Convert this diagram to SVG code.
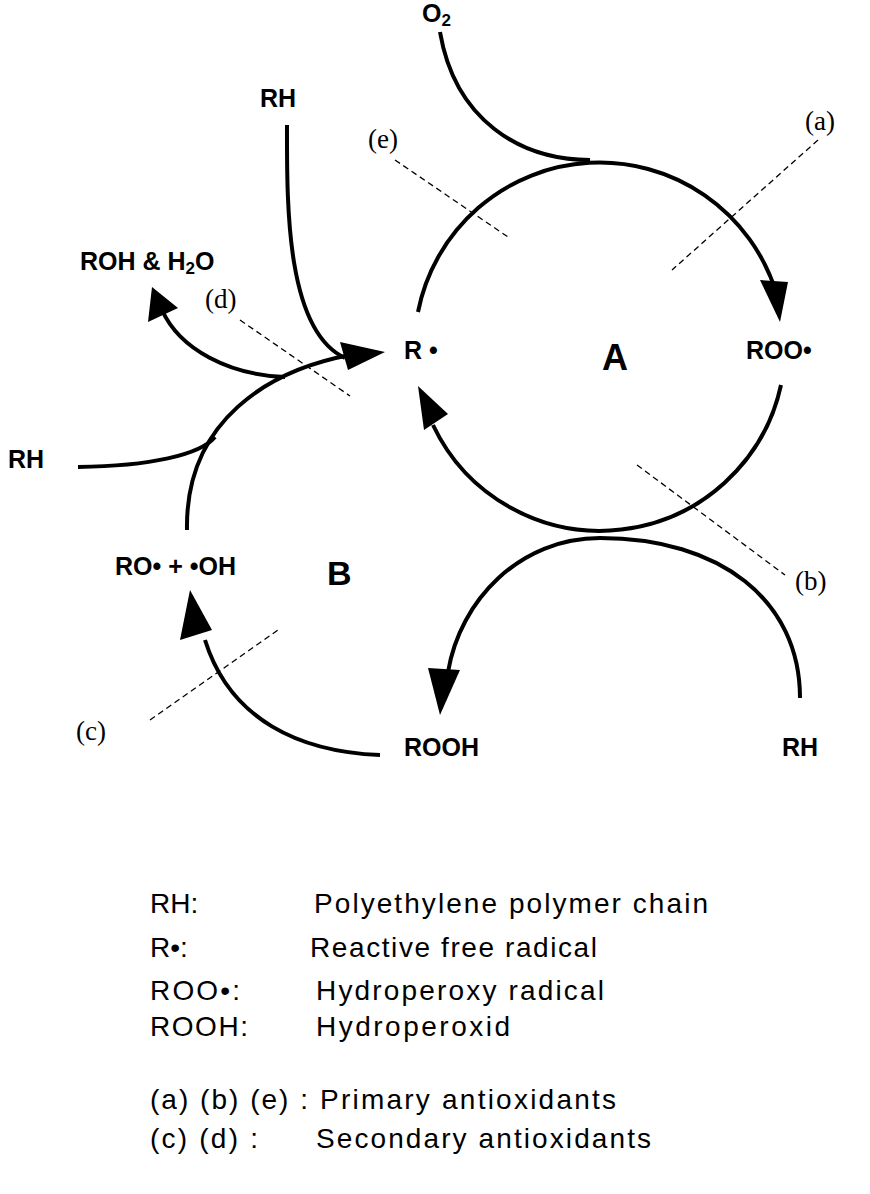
<svg xmlns="http://www.w3.org/2000/svg" width="870" height="1194" viewBox="0 0 870 1194">
<style>
.c{fill:none;stroke:#000;stroke-width:4}
.d{fill:none;stroke:#000;stroke-width:1.3;stroke-dasharray:6,4}
.b{font-family:"Liberation Sans",Arial,sans-serif;font-weight:bold;font-size:25px}
.s{font-family:"Liberation Serif",serif;font-size:27px}
.l{font-family:"Liberation Sans",Arial,sans-serif;font-size:28px}
</style>
<rect width="870" height="1194" fill="#fff"/>
<g id="connectors">
<path class="c" d="M418,312 A185,185 0 0 1 776,292"/>
<polygon points="760,280 788,282 780,322"/>
<path class="c" d="M781,385 A185,185 0 0 1 433,425"/>
<polygon points="418,386 424,430 448,414"/>
<path class="c" d="M440,32 C455,120 520,160 590,160"/>
<path class="c" d="M287,125 C287,200 285,330 345,358"/>
<path class="c" d="M187,530 C185,420 270,370 350,355"/>
<polygon points="385,352 340,342 348,370"/>
<path class="c" d="M285,377 C230,375 180,350 162,310"/>
<polygon points="152,287 148,322 178,308"/>
<path class="c" d="M78,467 C150,466 200,455 215,437"/>
<path class="c" d="M380,755 C300,752 230,720 205,640"/>
<polygon points="190,590 180,640 212,630"/>
<path class="c" d="M800,698 C800,600 720,538 600,538 C520,538 460,600 448,672"/>
<polygon points="440,715 428,668 460,670"/>
<path class="d" d="M818,140 L672,270"/>
<path class="d" d="M395,160 L508,237"/>
<path class="d" d="M240,320 L350,396"/>
<path class="d" d="M637,465 L785,575"/>
<path class="d" d="M150,720 L278,630"/>
</g>
<g id="labels">
<text class="b" x="422" y="22">O<tspan font-size="17" dy="4">2</tspan></text>
<text class="b" x="260" y="107">RH</text>
<text class="b" x="80" y="270">ROH &amp; H<tspan style="font-size:17px" dy="4">2</tspan><tspan dy="-4">O</tspan></text>
<text class="b" x="404" y="359">R •</text>
<text class="b" x="602" y="370" style="font-size:36px">A</text>
<text class="b" x="746" y="359">ROO•</text>
<text class="b" x="8" y="468">RH</text>
<text class="b" x="115" y="575">RO• + •OH</text>
<text class="b" x="327" y="585" style="font-size:34px">B</text>
<text class="b" x="404" y="756">ROOH</text>
<text class="b" x="782" y="756">RH</text>
<text class="s" x="805" y="130">(a)</text>
<text class="s" x="368" y="148">(e)</text>
<text class="s" x="205" y="308">(d)</text>
<text class="s" x="795" y="590">(b)</text>
<text class="s" x="76" y="740">(c)</text>
</g>
<g id="legend" class="l">
<text x="150" y="913">RH:</text><text x="314" y="913" textLength="394">Polyethylene polymer chain</text>
<text x="150" y="957">R•:</text><text x="310" y="957" textLength="287">Reactive free radical</text>
<text x="150" y="1000" textLength="90">ROO•:</text><text x="316" y="1000" textLength="288">Hydroperoxy radical</text>
<text x="150" y="1036" textLength="98">ROOH:</text><text x="316" y="1036" textLength="194">Hydroperoxid</text>
<text x="150" y="1109" textLength="158">(a) (b) (e) :</text><text x="320" y="1109" textLength="296">Primary antioxidants</text>
<text x="150" y="1148" textLength="108">(c) (d)  :</text><text x="316" y="1148" textLength="335">Secondary antioxidants</text>
</g>
</svg>
